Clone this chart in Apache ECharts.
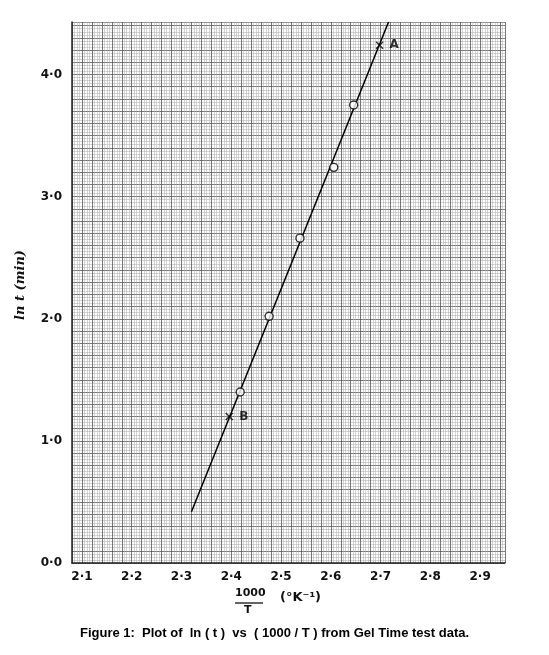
<!DOCTYPE html>
<html>
<head>
<meta charset="utf-8">
<script src="https://cdn.jsdelivr.net/npm/echarts@6/dist/echarts.min.js"></script>
<style>html,body{margin:0;padding:0;background:#fff}#c{width:549px;height:655px}</style>
</head>
<body>
<div id="c"></div>
<script>
// values
var circlePoints = [[2.418, 1.40], [2.476, 2.02], [2.538, 2.66], [2.606, 3.24], [2.646, 3.75]];
var crossPoints = [[2.698, 4.24, 'A'], [2.396, 1.20, 'B']];
var fitLine = [[2.320, 0.42], [2.716, 4.43]];
var xTicks = [2.1, 2.2, 2.3, 2.4, 2.5, 2.6, 2.7, 2.8, 2.9];
var yTicks = [0, 1, 2, 3, 4];

function near(v, list) {
    for (var i = 0; i < list.length; i++) {
        if (Math.abs(v - list[i]) < 1e-6) return list[i];
    }
    return null;
}
function dotFmt(v) { return v.toFixed(1).replace('.', '·'); }

var crossPath = 'path://M0,0L10,10M10,0L0,10';
var chart = echarts.init(document.getElementById('c'));
chart.setOption({
    animation: false,
    grid: {left: 72, right: 44, top: 22, bottom: 92},
    xAxis: {
        type: 'value', min: 2.08, max: 2.95, interval: 0.02,
        axisLine: {lineStyle: {color: '#222', width: 1.5}},
        axisTick: {show: false},
        axisLabel: {
            color: '#111', fontSize: 12, fontWeight: 'bold', fontFamily: 'DejaVu Sans', margin: 8,
            formatter: function (v) { var t = near(v, xTicks); return t === null ? '' : dotFmt(t); }
        },
        splitLine: {lineStyle: {color: '#555', width: 0.8}},
        minorTick: {show: false, splitNumber: 4},
        minorSplitLine: {show: true, lineStyle: {color: '#aaa', width: 0.5}}
    },
    yAxis: {
        type: 'value', min: 0, max: 4.43, interval: 0.1,
        axisLine: {lineStyle: {color: '#222', width: 1.5}},
        axisTick: {show: false},
        axisLabel: {
            color: '#111', fontSize: 12, fontWeight: 'bold', fontFamily: 'DejaVu Sans', margin: 10,
            formatter: function (v) { var t = near(v, yTicks); return t === null ? '' : dotFmt(t); }
        },
        splitLine: {lineStyle: {color: '#555', width: 0.8}},
        minorTick: {show: false, splitNumber: 4},
        minorSplitLine: {show: true, lineStyle: {color: '#aaa', width: 0.5}}
    },
    series: [
        {
            type: 'line', data: fitLine, symbol: 'none',
            lineStyle: {color: '#000', width: 1.5}, z: 5
        },
        {
            type: 'scatter', data: circlePoints, symbol: 'circle', symbolSize: 8,
            itemStyle: {color: '#fff', borderColor: '#000', borderWidth: 1.4}, z: 6
        },
        {
            type: 'scatter', data: crossPoints, symbol: crossPath, symbolSize: 7,
            itemStyle: {color: 'none', borderColor: '#000', borderWidth: 1.4}, z: 6,
            label: {
                show: true, position: 'right', distance: 4, color: '#000', fontSize: 12,
                fontWeight: 'bold', fontFamily: 'DejaVu Sans', formatter: function (p) { return p.data[2]; }
            }
        }
    ],
    graphic: [
        {type: 'text', left: 14, top: 250, rotation: Math.PI / 2,
            style: {text: 'ln t (min)', font: 'italic bold 13px DejaVu Serif', fill: '#111'}},
        {type: 'text', left: 235, top: 588,
            style: {text: '1000', font: 'bold 11px DejaVu Sans', fill: '#111'}},
        {type: 'line', shape: {x1: 235, y1: 603, x2: 263, y2: 603}, style: {stroke: '#111', lineWidth: 1.3}},
        {type: 'text', left: 244, top: 605,
            style: {text: 'T', font: 'bold 11px DejaVu Sans', fill: '#111'}},
        {type: 'text', left: 280, top: 591,
            style: {text: '(°K⁻¹)', font: 'bold 13px DejaVu Sans', fill: '#111'}},
        {type: 'text', left: 'center', top: 627,
            style: {text: 'Figure 1:  Plot of  ln ( t )  vs  ( 1000 / T ) from Gel Time test data.',
                font: 'bold 13px Liberation Sans', fill: '#000'}}
    ]
});
</script>
</body>
</html>
